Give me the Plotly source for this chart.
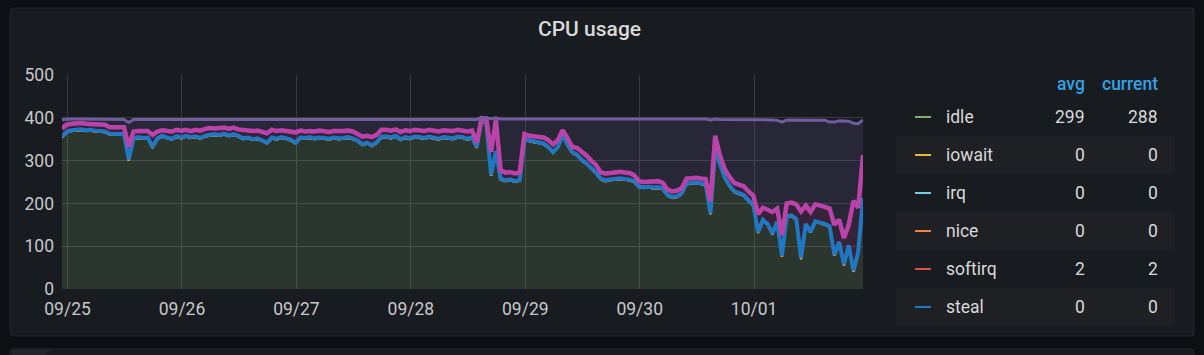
import pandas as pd
import plotly.graph_objects as go

# ---------------- data (hourly samples) ----------------
start_time = "2021-09-24 22:50"
n_points = 169

idle = [354, 366, 369, 370, 371, 369, 370, 368, 368, 366,
        361, 361, 362, 360, 300, 350, 353, 351, 352, 330,
        350, 356, 352, 349, 355, 352, 356, 353, 355, 351,
        356, 358, 360, 358, 361, 357, 360, 356, 350, 352,
        348, 350, 346, 340, 352, 349, 353, 351, 347, 340,
        352, 351, 353, 350, 352, 351, 349, 352, 350, 351,
        353, 350, 345, 336, 340, 334, 341, 354, 355, 352,
        356, 348, 353, 350, 354, 353, 351, 354, 352, 349,
        353, 352, 350, 354, 353, 349, 352, 330, 395, 385,
        265, 320, 256, 252, 254, 250, 253, 348, 345, 343,
        341, 338, 330, 318, 330, 358, 336, 318, 312, 300,
        292, 282, 270, 256, 252, 254, 256, 257, 255, 254,
        250, 238, 236, 237, 235, 236, 233, 218, 213, 215,
        222, 245, 246, 247, 245, 243, 175, 325, 290, 258,
        240, 226, 222, 218, 205, 195, 131, 160, 150, 128,
        155, 75, 168, 170, 162, 70, 150, 132, 156, 154,
        150, 145, 78, 108, 55, 100, 40, 85, 210]

iowait = [0, 0, 0, 0, 0, 0, 0, 0, 0, 0, 0, 0, 0, 0, 0, 0, 0, 0, 0, 0,
          0, 0, 0, 0, 0, 0, 0, 0, 0, 0, 0, 0, 0, 0, 0, 0, 0, 0, 0, 0,
          0, 0, 0, 0, 0, 0, 0, 0, 0, 0, 0, 0, 0, 0, 0, 0, 0, 0, 0, 0,
          0, 0, 0, 0, 0, 0, 0, 0, 0, 0, 0, 0, 0, 0, 0, 0, 0, 0, 0, 0,
          0, 0, 0, 0, 0, 0, 0, 0, 0, 0, 0, 0, 0, 0, 0, 0, 0, 0, 0, 0,
          0, 0, 0, 0, 0, 0, 0, 0, 0, 0, 0, 0, 0, 0, 0, 0, 0, 0, 0, 0,
          0, 0, 0, 0, 0, 0, 0, 0, 0, 0, 0, 0, 0, 0, 0, 0, 0, 0, 0, 0,
          0, 0, 0, 0, 0, 0, 0, 0, 0, 0, 0, 0, 0, 0, 0, 0, 0, 0, 0, 0,
          0, 0, 0, 0, 0, 0, 0, 0, 0]
irq = [0, 0, 0, 0, 0, 0, 0, 0, 0, 0, 0, 0, 0, 0, 0, 0, 0, 0, 0, 0,
       0, 0, 0, 0, 0, 0, 0, 0, 0, 0, 0, 0, 0, 0, 0, 0, 0, 0, 0, 0,
       0, 0, 0, 0, 0, 0, 0, 0, 0, 0, 0, 0, 0, 0, 0, 0, 0, 0, 0, 0,
       0, 0, 0, 0, 0, 0, 0, 0, 0, 0, 0, 0, 0, 0, 0, 0, 0, 0, 0, 0,
       0, 0, 0, 0, 0, 0, 0, 0, 0, 0, 0, 0, 0, 0, 0, 0, 0, 0, 0, 0,
       0, 0, 0, 0, 0, 0, 0, 0, 0, 0, 0, 0, 0, 0, 0, 0, 0, 0, 0, 0,
       0, 0, 0, 0, 0, 0, 0, 0, 0, 0, 0, 0, 0, 0, 0, 0, 0, 0, 0, 0,
       0, 0, 0, 0, 0, 0, 0, 0, 0, 0, 0, 0, 0, 0, 0, 0, 0, 0, 0, 0,
       0, 0, 0, 0, 0, 0, 0, 0, 0]
nice = [0, 0, 0, 0, 0, 0, 0, 0, 0, 0, 0, 0, 0, 0, 0, 0, 0, 0, 0, 0,
        0, 0, 0, 0, 0, 0, 0, 0, 0, 0, 0, 0, 0, 0, 0, 0, 0, 0, 0, 0,
        0, 0, 0, 0, 0, 0, 0, 0, 0, 0, 0, 0, 0, 0, 0, 0, 0, 0, 0, 0,
        0, 0, 0, 0, 0, 0, 0, 0, 0, 0, 0, 0, 0, 0, 0, 0, 0, 0, 0, 0,
        0, 0, 0, 0, 0, 0, 0, 0, 0, 0, 0, 0, 0, 0, 0, 0, 0, 0, 0, 0,
        0, 0, 0, 0, 0, 0, 0, 0, 0, 0, 0, 0, 0, 0, 0, 0, 0, 0, 0, 0,
        0, 0, 0, 0, 0, 0, 0, 0, 0, 0, 0, 0, 0, 0, 0, 0, 0, 0, 0, 0,
        0, 0, 0, 0, 0, 0, 0, 0, 0, 0, 0, 0, 0, 0, 0, 0, 0, 0, 0, 0,
        0, 0, 0, 0, 0, 0, 0, 0, 0]
softirq = [2, 2, 2, 2, 2, 2, 2, 2, 2, 2, 2, 2, 2, 2, 3, 2, 2, 2, 2, 2,
           2, 2, 2, 2, 2, 2, 2, 2, 2, 2, 2, 2, 2, 2, 2, 2, 2, 2, 2, 2,
           2, 2, 2, 2, 2, 2, 2, 2, 2, 2, 2, 2, 2, 2, 2, 2, 2, 2, 2, 2,
           2, 2, 2, 2, 2, 2, 2, 2, 2, 2, 2, 2, 2, 2, 2, 2, 2, 2, 2, 2,
           2, 2, 2, 2, 2, 2, 2, 2, 2, 2, 2, 2, 2, 2, 2, 2, 2, 2, 2, 2,
           2, 2, 2, 2, 2, 2, 2, 2, 2, 2, 2, 2, 2, 2, 2, 2, 2, 2, 2, 2,
           2, 2, 2, 2, 2, 2, 2, 2, 2, 2, 2, 2, 2, 2, 2, 2, 2, 2, 2, 2,
           2, 2, 2, 2, 2, 2, 2, 2, 2, 2, 2, 3, 2, 2, 2, 3, 2, 2, 2, 2,
           2, 2, 2, 2, 3, 2, 3, 2, 2]
steal = [0, 0, 0, 0, 0, 0, 0, 0, 0, 0, 0, 0, 0, 0, 0, 0, 0, 0, 0, 0,
         0, 0, 0, 0, 0, 0, 0, 0, 0, 0, 0, 0, 0, 0, 0, 0, 0, 0, 0, 0,
         0, 0, 0, 0, 0, 0, 0, 0, 0, 0, 0, 0, 0, 0, 0, 0, 0, 0, 0, 0,
         0, 0, 0, 0, 0, 0, 0, 0, 0, 0, 0, 0, 0, 0, 0, 0, 0, 0, 0, 0,
         0, 0, 0, 0, 0, 0, 0, 0, 0, 0, 0, 0, 0, 0, 0, 0, 0, 0, 0, 0,
         0, 0, 0, 0, 0, 0, 0, 0, 0, 0, 0, 0, 0, 0, 0, 0, 0, 0, 0, 0,
         0, 0, 0, 0, 0, 0, 0, 0, 0, 0, 0, 0, 0, 0, 0, 0, 0, 0, 0, 0,
         0, 0, 0, 0, 0, 0, 0, 0, 0, 0, 0, 0, 0, 0, 0, 0, 0, 0, 0, 0,
         0, 0, 0, 0, 0, 0, 0, 0, 0]

system = [19, 16, 15, 15, 15, 15, 14, 15, 16, 16,
          15, 15, 15, 16, 30, 16, 14, 15, 15, 28,
          16, 13, 16, 17, 15, 16, 14, 14, 15, 17,
          16, 16, 13, 16, 14, 15, 15, 15, 19, 16,
          19, 18, 20, 22, 18, 18, 16, 17, 19, 24,
          16, 15, 14, 16, 16, 15, 16, 15, 16, 16,
          15, 16, 15, 18, 16, 19, 17, 16, 15, 16,
          15, 17, 16, 17, 16, 16, 16, 16, 16, 17,
          16, 16, 17, 16, 16, 17, 16, 10, 2, 11,
          53, 74, 20, 18, 17, 18, 17, 12, 11, 12,
          13, 14, 16, 18, 16, 11, 15, 12, 16, 20,
          18, 16, 18, 14, 16, 15, 15, 15, 15, 15,
          14, 12, 12, 12, 13, 14, 13, 12, 13, 13,
          12, 11, 11, 11, 11, 12, 28, 31, 20, 20,
          20, 20, 20, 20, 21, 21, 42, 28, 33, 50,
          31, 48, 30, 30, 34, 108, 43, 46, 40, 40,
          40, 41, 70, 52, 61, 48, 163, 103, 101]

user = [21, 13, 11, 10, 9, 11, 11, 12, 11, 13,
        18, 18, 17, 18, 56, 28, 27, 28, 27, 36,
        28, 25, 26, 28, 24, 26, 24, 27, 24, 26,
        22, 20, 21, 20, 19, 22, 19, 23, 25, 26,
        27, 26, 28, 32, 24, 27, 25, 26, 28, 30,
        26, 28, 27, 28, 26, 28, 29, 27, 28, 27,
        26, 28, 34, 40, 38, 41, 36, 24, 24, 26,
        23, 29, 25, 27, 24, 25, 27, 24, 26, 28,
        25, 26, 27, 24, 25, 28, 26, 54, 1, 2,
        78, 4, 119, 125, 124, 127, 125, 35, 39, 40,
        41, 43, 49, 59, 49, 26, 44, 65, 67, 75,
        85, 97, 107, 125, 127, 126, 124, 123, 125, 126,
        131, 145, 147, 146, 147, 145, 149, 165, 168, 166,
        160, 139, 138, 137, 139, 140, 190, 39, 84, 116,
        134, 148, 152, 156, 168, 177, 220, 205, 210, 215,
        206, 264, 195, 193, 197, 214, 200, 215, 197, 199,
        202, 202, 240, 231, 274, 242, 181, 196, 82]

series_names = ["idle", "iowait", "irq", "nice", "softirq", "steal", "system", "user"]
series_colors = ["#7EB26D", "#EAB839", "#6ED0E0", "#EF843C", "#E24D42", "#1F78C1", "#BA43A9", "#705DA0"]
legend_names = ["idle", "iowait", "irq", "nice", "softirq", "steal"]
legend_avg = ["299", "0", "0", "0", "2", "0"]
legend_current = ["288", "0", "0", "0", "2", "0"]
tick_days = ["2021-09-25", "2021-09-26", "2021-09-27", "2021-09-28", "2021-09-29", "2021-09-30", "2021-10-01"]
x_range = ["2021-09-24 22:50", "2021-10-01 22:50"]

times = pd.date_range(start_time, periods=n_points, freq="h")
values = [idle, iowait, irq, nice, softirq, steal, system, user]
widths = [2, 2, 2, 2.5, 2, 4, 4.5, 3]

# ---------------- geometry helpers ----------------
W, H = 1204, 355
PL, PR, PT, PB = 62, 863, 75, 289


def px(x):
    return (x - PL) / (PR - PL)


def py(y):
    return (PB - y) / (PB - PT)


def rgba(hexc, a):
    h = hexc.lstrip("#")
    r, g, b = int(h[0:2], 16), int(h[2:4], 16), int(h[4:6], 16)
    return f"rgba({r},{g},{b},{a})"


fig = go.Figure()
for name, col, vals, w in zip(series_names, series_colors, values, widths):
    fig.add_trace(go.Scatter(
        x=times, y=vals, name=name, mode="lines", stackgroup="one",
        line=dict(color=col, width=w, shape="linear"),
        fillcolor=rgba(col, 0.19), hoverinfo="skip", showlegend=False,
    ))

FONT = "Roboto, Inter, sans-serif"
TXT = "#c7c8cc"
PANEL = "#181b1f"
FS = 17.5

shapes = []


def rounded_rect(x0, y0, x1, y1, r):
    X0, X1 = px(x0), px(x1)
    Y0, Y1 = py(y0), py(y1)
    rx = r / (PR - PL)
    ry = r / (PB - PT)
    return (f"M {X0+rx},{Y0} L {X1-rx},{Y0} Q {X1},{Y0} {X1},{Y0-ry} "
            f"L {X1},{Y1+ry} Q {X1},{Y1} {X1-rx},{Y1} L {X0+rx},{Y1} "
            f"Q {X0},{Y1} {X0},{Y1+ry} L {X0},{Y0-ry} Q {X0},{Y0} {X0+rx},{Y0} Z")


# main panel
shapes.append(dict(type="path", xref="paper", yref="paper", layer="below",
                   path=rounded_rect(10, 8, 1194, 336, 3),
                   fillcolor=PANEL, line=dict(color="#24262b", width=1)))
# next panel peeking at the bottom
shapes.append(dict(type="path", xref="paper", yref="paper", layer="below",
                   path=rounded_rect(10, 349, 1194, 372, 3),
                   fillcolor=PANEL, line=dict(color="#24262b", width=1)))
shapes.append(dict(type="path", xref="paper", yref="paper", layer="below",
                   path=f"M {px(12)},{py(350)} L {px(50)},{py(350)} L {px(44)},{py(356)} L {px(12)},{py(356)} Z",
                   fillcolor="#22252a", line=dict(width=0)))

# legend table
row_y = [117, 155, 193, 231, 269, 307]
annotations = []
annotations.append(dict(text="CPU usage", x=px(589), y=py(29), xref="paper", yref="paper",
                        xanchor="center", yanchor="middle", showarrow=False,
                        font=dict(family=FONT, size=21, color="#d8d9da", weight=500)))
annotations.append(dict(text="avg", x=px(1087), y=py(84), xref="paper", yref="paper",
                        xanchor="right", yanchor="middle", showarrow=False,
                        font=dict(family=FONT, size=FS, color="#33a2e5", weight=500)))
annotations.append(dict(text="current", x=px(1160), y=py(84), xref="paper", yref="paper",
                        xanchor="right", yanchor="middle", showarrow=False,
                        font=dict(family=FONT, size=FS, color="#33a2e5", weight=500)))
for i, (nm, av, cu) in enumerate(zip(legend_names, legend_avg, legend_current)):
    yc = row_y[i]
    if i % 2 == 1:
        shapes.append(dict(type="rect", xref="paper", yref="paper", layer="below",
                           x0=px(896), x1=px(1175), y0=py(yc - 19), y1=py(yc + 19),
                           fillcolor="#1e2024", line=dict(width=0)))
    shapes.append(dict(type="line", xref="paper", yref="paper",
                       x0=px(915), x1=px(931), y0=py(yc), y1=py(yc),
                       line=dict(color=series_colors[series_names.index(nm)], width=2)))
    annotations.append(dict(text=nm, x=px(944), y=py(yc), xref="paper", yref="paper",
                            xanchor="left", yanchor="middle", showarrow=False,
                            font=dict(family=FONT, size=FS, color="#d8d9da")))
    annotations.append(dict(text=av, x=px(1087), y=py(yc), xref="paper", yref="paper",
                            xanchor="right", yanchor="middle", showarrow=False,
                            font=dict(family=FONT, size=FS, color="#d8d9da")))
    annotations.append(dict(text=cu, x=px(1160), y=py(yc), xref="paper", yref="paper",
                            xanchor="right", yanchor="middle", showarrow=False,
                            font=dict(family=FONT, size=FS, color="#d8d9da")))

GRID = "#393b40"
fig.update_layout(
    width=W, height=H,
    margin=dict(l=PL, r=W - PR, t=PT, b=H - PB, pad=0),
    paper_bgcolor="#0e0f12", plot_bgcolor="rgba(0,0,0,0)",
    font=dict(family=FONT, size=FS, color=TXT),
    shapes=shapes, annotations=annotations,
    showlegend=False, hovermode=False,
    xaxis=dict(type="date", range=x_range, tickvals=tick_days, tickformat="%m/%d",
               showgrid=True, gridcolor=GRID, gridwidth=1, zeroline=False, showline=False,
               ticks="", ticklabelstandoff=7, tickfont=dict(family=FONT, size=FS, color=TXT)),
    yaxis=dict(range=[0, 500], tickvals=[0, 100, 200, 300, 400, 500],
               showgrid=True, gridcolor=GRID, gridwidth=1, zeroline=False, showline=False,
               ticks="", ticklabelstandoff=7, tickfont=dict(family=FONT, size=FS, color=TXT)),
)

fig.write_html("out.html")
